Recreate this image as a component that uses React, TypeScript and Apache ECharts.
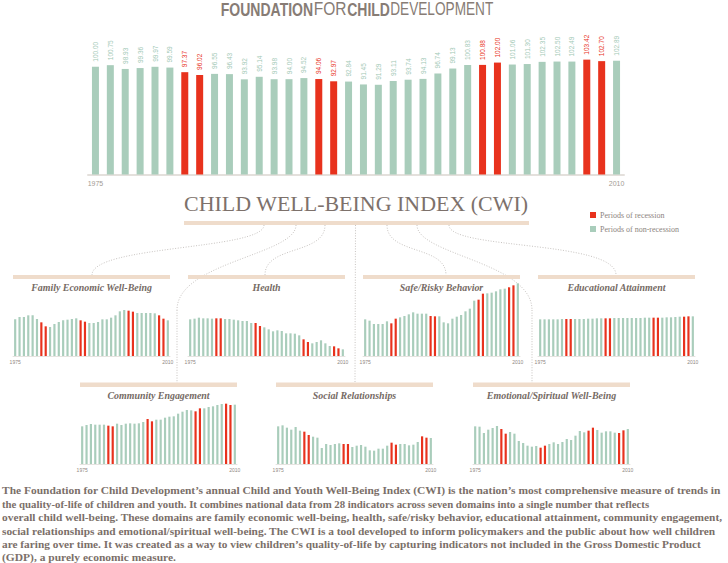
import React, { useEffect, useRef } from "react";
import * as echarts from "echarts";

const YEARS = ["1975","1976","1977","1978","1979","1980","1981","1982","1983","1984","1985","1986","1987","1988","1989","1990","1991","1992","1993","1994","1995","1996","1997","1998","1999","2000","2001","2002","2003","2004","2005","2006","2007","2008","2009","2010"];
const RECESSION_YEARS = ["1981","1982","1990","1991","2001","2002","2008","2009"];
const AXIS_LABEL_YEARS = ["1975","2010"];

const CWI_VALUES = [100.00,100.75,98.93,99.36,99.97,99.59,97.37,96.02,96.55,96.43,93.92,95.14,93.98,94.00,94.52,94.06,92.97,92.84,91.45,91.29,93.11,93.74,94.13,96.74,99.13,100.83,100.88,102.00,101.06,101.30,102.35,102.50,102.49,103.42,102.70,102.89];

// domain indices (relative scale)
const FAMILY = [110,117,117,122,122,111,101,89,87,96,102,107,109,111,113,107,103,99,99,102,110,110,115,122,134,138,136,133,129,129,129,129,128,122,112,107];
const HEALTH = [110,112,115,113,113,112,113,113,111,111,109,107,105,105,99,99,90,86,80,74,77,75,68,68,67,62,50,42,38,42,47,38,30,29,23,20];
const SAFE = [110,106,96,96,96,104,98,112,116,120,125,131,127,127,127,120,119,119,101,98,112,118,123,134,142,166,169,187,188,190,194,200,202,206,212,218];
const EDUCATION = [110,110,110,110,110,111,111,111,111,111,111,112,112,113,113,113,113,114,114,114,114,114,114,114,115,115,115,115,115,116,116,117,118,118,119,119];
const COMMUNITY = [113,117,120,118,118,118,115,113,121,117,121,122,121,122,126,135,128,133,133,139,142,143,151,157,162,161,158,167,167,171,173,177,180,181,177,178];
const SOCIAL = [113,116,109,103,111,100,97,87,82,79,48,60,57,60,62,60,60,51,55,57,52,41,40,46,46,55,64,58,60,60,56,58,66,83,79,78];
const EMOTIONAL = [113,112,93,103,108,114,105,91,96,91,69,63,55,52,54,49,55,60,65,60,66,75,72,85,99,95,100,109,102,94,98,98,94,93,101,105];

const PANEL_TITLES = ["Family Economic Well-Being","Health","Safe/Risky Behavior","Educational Attainment","Community Engagement","Social Relationships","Emotional/Spiritual Well-Being"];
const PANEL_VALUES = [FAMILY, HEALTH, SAFE, EDUCATION, COMMUNITY, SOCIAL, EMOTIONAL];

const MAIN_TITLE = "CHILD WELL-BEING INDEX (CWI)";
const LEGEND_LABELS = ["Periods of recession", "Periods of non-recession"];
const LOGO_PARTS = ["FOUNDATION", "FOR", "CHILD", "DEVELOPMENT"];
const PARAGRAPH = [
  "The Foundation for Child Development\u2019s annual Child and Youth Well-Being Index (CWI) is the nation\u2019s most comprehensive measure of trends in",
  "the quality-of-life of children and youth. It combines national data from 28 indicators across seven domains into a single number that reflects",
  "overall child well-being. These domains are family economic well-being, health, safe/risky behavior, educational attainment, community engagement,",
  "social relationships and emotional/spiritual well-being. The CWI is a tool developed to inform policymakers and the public about how well children",
  "are faring over time. It was created as a way to view children\u2019s quality-of-life by capturing indicators not included in the Gross Domestic Product",
  "(GDP), a purely economic measure.",
];

const RED = "#e8321d";
const GREEN = "#a9cdbb";
const GREEN_TEXT = "#a3c9b6";
const BEIGE = "#efdccb";
const TEXT = "#7b6f69";
const DOT = "#b9b4b0";

// layout
const PANEL_LAYOUT = [
  { x0: 13, x1: 170, row: 0 },
  { x0: 188, x1: 345, row: 0 },
  { x0: 363, x1: 520, row: 0 },
  { x0: 538, x1: 695, row: 0 },
  { x0: 80, x1: 237, row: 1 },
  { x0: 276, x1: 433, row: 1 },
  { x0: 473, x1: 630, row: 1 },
];
const ROWS = [
  { bar: 275, barH: 4, title: 287.5, base: 356 },
  { bar: 382.5, barH: 4.5, title: 395, base: 464 },
];
const PARA_LINE_ENDS = [722, 650, 723, 716, 702, 176];

function measure(text: string, font: string): number {
  const c = document.createElement("canvas").getContext("2d") as CanvasRenderingContext2D;
  c.font = font;
  return c.measureText(text).width;
}

export default function App() {
  const ref = useRef<HTMLDivElement>(null);
  useEffect(() => {
    document.body.style.margin = "0";
    const chart = echarts.init(ref.current as HTMLDivElement, null, { renderer: "svg" });
    const isRec = (y: string) => RECESSION_YEARS.indexOf(y) >= 0;

    const grids: any[] = [];
    const xAxes: any[] = [];
    const yAxes: any[] = [];
    const series: any[] = [];

    // main chart
    grids.push({ left: 88, width: 536, top: 46, height: 128.5 });
    xAxes.push({
      type: "category", gridIndex: 0, data: YEARS,
      axisTick: { show: false },
      axisLine: { lineStyle: { color: "#e4e0dc", width: 2 } },
      axisLabel: {
        interval: (i: number, v: string) => AXIS_LABEL_YEARS.indexOf(v) >= 0,
        fontSize: 7, color: "#a39b94", margin: 5, fontFamily: "Liberation Sans",
      },
    });
    yAxes.push({ type: "value", gridIndex: 0, min: 48, max: 110, show: false });
    series.push({
      type: "bar", xAxisIndex: 0, yAxisIndex: 0, barWidth: "47%",
      data: CWI_VALUES.map((v, i) => ({
        value: v,
        itemStyle: { color: isRec(YEARS[i]) ? RED : GREEN },
        label: { color: isRec(YEARS[i]) ? RED : GREEN_TEXT },
      })),
      label: {
        show: true, position: "top", rotate: 90, align: "left", verticalAlign: "middle",
        distance: 5, fontSize: 6.5, fontFamily: "Liberation Sans",
        formatter: (p: any) => Number(p.value).toFixed(2),
      },
    });

    PANEL_LAYOUT.forEach((p, k) => {
      const r = ROWS[p.row];
      const gi = k + 1;
      grids.push({ left: p.x0, width: p.x1 - p.x0, top: r.base - 80, height: 80 });
      xAxes.push({
        type: "category", gridIndex: gi, data: YEARS,
        axisTick: { show: false },
        axisLine: { lineStyle: { color: "#e6e3e0", width: 1 } },
        axisLabel: {
          interval: (i: number, v: string) => AXIS_LABEL_YEARS.indexOf(v) >= 0,
          fontSize: 5, color: "#8f8882", margin: 3, fontFamily: "Liberation Sans",
        },
      });
      yAxes.push({ type: "value", gridIndex: gi, min: 0, max: 240, show: false });
      series.push({
        type: "bar", xAxisIndex: gi, yAxisIndex: gi, barWidth: "50%",
        data: PANEL_VALUES[k].map((v, i) => ({
          value: v, itemStyle: { color: isRec(YEARS[i]) ? RED : GREEN },
        })),
      });
    });

    const g: any[] = [];
    const dotted = { stroke: DOT, lineWidth: 0.8, lineDash: [1, 1.6], fill: null };
    // connectors
    const curves = [
      [264, 225, 264, 250, 92, 245, 92, 275],
      [296, 225, 296, 255, 177, 262, 177, 310],
      [325, 225, 325, 255, 265, 245, 265, 275],
      [387, 225, 387, 255, 446, 245, 446, 275],
      [417, 225, 417, 255, 532, 262, 532, 310],
      [449, 225, 449, 250, 616, 240, 616, 275],
    ];
    curves.forEach((c) => {
      g.push({ type: "bezierCurve", z: 1, shape: { x1: c[0], y1: c[1], cpx1: c[2], cpy1: c[3], cpx2: c[4], cpy2: c[5], x2: c[6], y2: c[7] }, style: dotted });
    });
    g.push({ type: "line", z: 1, shape: { x1: 177, y1: 310, x2: 177, y2: 383 }, style: dotted });
    g.push({ type: "line", z: 1, shape: { x1: 532, y1: 310, x2: 532, y2: 383 }, style: dotted });
    g.push({ type: "line", z: 1, shape: { x1: 355.5, y1: 225, x2: 355, y2: 383 }, style: dotted });

    // logo
    const logoSpans = [[220.7, 313.2], [313.8, 346.6], [347.2, 390], [390.2, 493.3]];
    LOGO_PARTS.forEach((t, i) => {
      const bold = i % 2 === 0;
      const fontFamily = "Liberation Sans";
      const fontWeight = bold ? "bold" : "normal";
      const w = measure(t, `${fontWeight} 18px "${fontFamily}"`);
      g.push({
        type: "text", x: logoSpans[i][0], y: 9.3, scaleX: (logoSpans[i][1] - logoSpans[i][0]) / w, z: 5,
        style: { text: t, x: 0, y: 0, fontSize: 18, fontFamily, fontWeight, fill: "#877c75", align: "left", textAlign: "left", verticalAlign: "middle", textVerticalAlign: "middle" },
      });
    });

    // main title
    const tFont = "Liberation Serif";
    const tw = measure(MAIN_TITLE, `normal 22px "${tFont}"`);
    g.push({
      type: "text", x: 184, y: 203, scaleX: 345 / tw, z: 5,
      style: { text: MAIN_TITLE, x: 0, y: 0, fontSize: 22, fontFamily: tFont, fill: "#7d716b", align: "left", textAlign: "left", verticalAlign: "middle", textVerticalAlign: "middle" },
    });
    g.push({ type: "rect", z: 3, shape: { x: 184, y: 221, width: 345, height: 4 }, style: { fill: BEIGE } });

    // legend
    [RED, GREEN].forEach((c, i) => {
      const y = 212 + i * 14;
      g.push({ type: "rect", z: 3, shape: { x: 590, y, width: 6, height: 6 }, style: { fill: c } });
      g.push({
        type: "text", z: 3, x: 600, y: y + 3,
        style: { text: LEGEND_LABELS[i], x: 0, y: 0, fontSize: 8, fontFamily: "Liberation Serif", fill: "#8c847e", align: "left", textAlign: "left", verticalAlign: "middle", textVerticalAlign: "middle" },
      });
    });

    // panel bars & titles
    const ptw = measure(PANEL_TITLES[0], `italic bold 9px "Liberation Serif"`);
    const pSize = 9 * 121 / ptw;
    PANEL_LAYOUT.forEach((p, k) => {
      const r = ROWS[p.row];
      g.push({ type: "rect", z: 3, shape: { x: p.x0, y: r.bar, width: p.x1 - p.x0, height: r.barH }, style: { fill: BEIGE } });
      g.push({
        type: "text", z: 3, x: (p.x0 + p.x1) / 2, y: r.title,
        style: { text: PANEL_TITLES[k], x: 0, y: 0, fontSize: pSize, fontFamily: "Liberation Serif", fontStyle: "italic", fontWeight: "bold", fill: "#756a64", align: "center", textAlign: "center", verticalAlign: "middle", textVerticalAlign: "middle" },
      });
    });

    // paragraph, one text per line fitted to the reference line widths
    const parSize = 11;
    const parFont = `bold ${parSize}px "Liberation Serif"`;
    PARAGRAPH.forEach((line, i) => {
      const w = measure(line, parFont);
      g.push({
        type: "text", z: 3, x: 2, y: 490.5 + i * 13.4, scaleX: (PARA_LINE_ENDS[i] - 2) / w,
        style: { text: line, x: 0, y: 0, fontSize: parSize, fontFamily: "Liberation Serif", fontWeight: "bold", fill: TEXT, align: "left", textAlign: "left", verticalAlign: "middle", textVerticalAlign: "middle" },
      });
    });

    chart.setOption({
      animation: false,
      backgroundColor: "#ffffff",
      grid: grids,
      xAxis: xAxes,
      yAxis: yAxes,
      series,
      graphic: { elements: g },
    });
    return () => chart.dispose();
  }, []);
  return <div ref={ref} style={{ width: 728, height: 563 }} />;
}
